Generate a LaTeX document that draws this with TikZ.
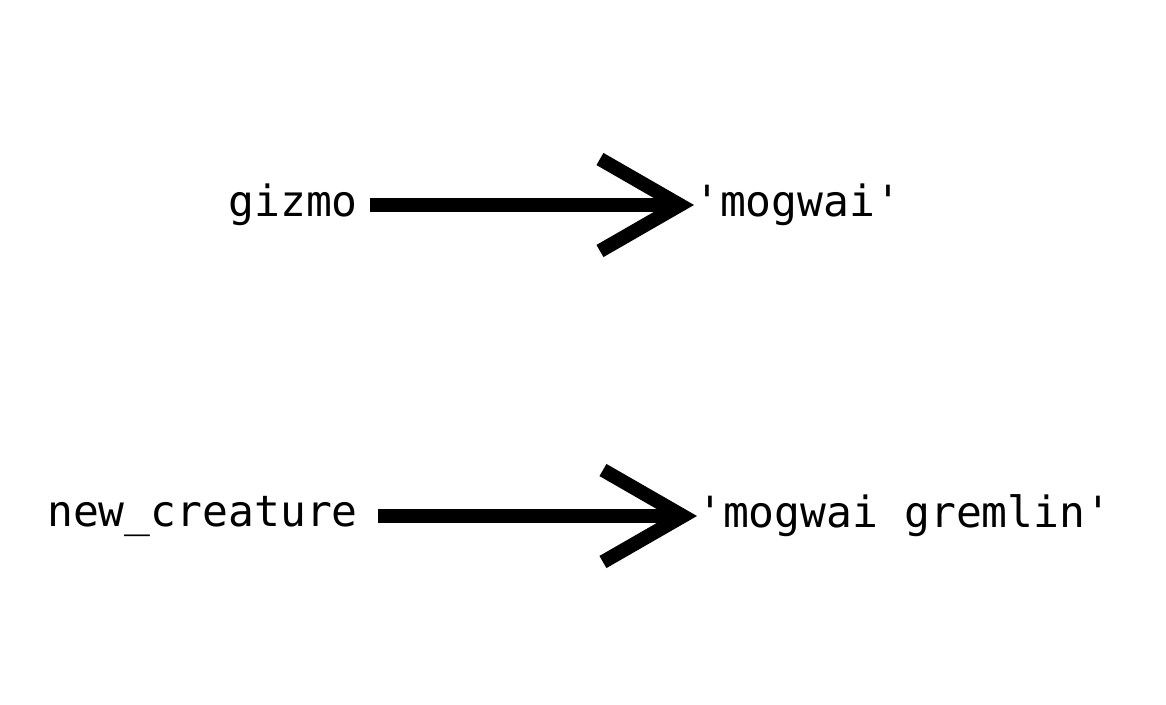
\documentclass[tikz,border=0pt]{standalone}
\usepackage{fontspec}
\setmonofont{DejaVu Sans Mono}
\usetikzlibrary{arrows.meta}
\begin{document}
\begin{tikzpicture}[x=1pt,y=-1pt,
  lbl/.style={font=\ttfamily\fontsize{43}{50}\selectfont,inner sep=0pt},
  conn/.style={line width=14pt,-{Straight Barb[length=80pt,width=92pt,line width=14pt]}}]
\useasboundingbox (0,0) rectangle (1166,704);
\node[lbl,anchor=east] (g) at (358,205) {gizmo};
\node[lbl,anchor=west] (m1) at (694,205) {'mogwai'};
\node[lbl,anchor=east] (n) at (358,516) {new\_creature};
\node[lbl,anchor=west] (m2) at (697,516) {'mogwai gremlin'};
\draw[conn] (g.east) ++(12,0) -- (m1.west);
\draw[conn] (n.east) ++(20,0) -- (m2.west);
\end{tikzpicture}
\end{document}
